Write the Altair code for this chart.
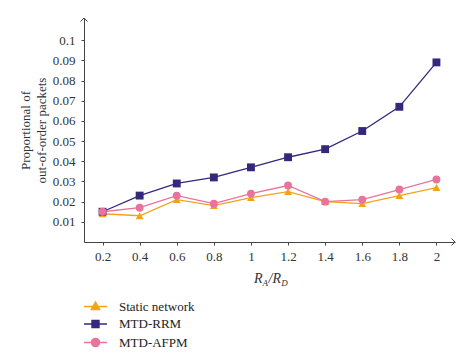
import altair as alt
import pandas as pd

ratio = [0.2, 0.4, 0.6, 0.8, 1.0, 1.2, 1.4, 1.6, 1.8, 2.0]
static_network = [0.014, 0.013, 0.021, 0.018, 0.022, 0.025, 0.020, 0.019, 0.023, 0.027]
mtd_rrm = [0.015, 0.023, 0.029, 0.032, 0.037, 0.042, 0.046, 0.055, 0.067, 0.089]
mtd_afpm = [0.015, 0.017, 0.023, 0.019, 0.024, 0.028, 0.020, 0.021, 0.026, 0.031]

series_names = ["Static network", "MTD-RRM", "MTD-AFPM"]
series_colors = ["#f4a21c", "#33287c", "#e8739c"]
series_shapes = ["triangle-up", "square", "circle"]
legend_shapes = [
    "M-2,0H2M0,-0.75L0.72,0.5H-0.72Z",
    "M-2,0H2M-0.6,-0.6H0.6V0.6H-0.6Z",
    "M-2,0H2M-0.7,0A0.7,0.7,0,1,0,0.7,0A0.7,0.7,0,1,0,-0.7,0Z",
]
x_ticks = ratio
y_ticks = [0.01, 0.02, 0.03, 0.04, 0.05, 0.06, 0.07, 0.08, 0.09, 0.1]

rows = []
for name, vals in zip(series_names, [static_network, mtd_rrm, mtd_afpm]):
    for r, v in zip(ratio, vals):
        rows.append({"ratio": r, "value": v, "series": name})
df = pd.DataFrame(rows)

W, H = 371, 224
SERIF = "Liberation Serif"

x = alt.X("ratio:Q", scale=alt.Scale(domain=[0.1, 2.1], nice=False, zero=False),
          axis=alt.Axis(values=x_ticks, format="~g", title=None, grid=False,
                        tickSize=3, labelPadding=5))
y = alt.Y("value:Q", scale=alt.Scale(domain=[0, 0.111], nice=False),
          axis=alt.Axis(values=y_ticks, format="~g", grid=False,
                        title=["Proportional of", "out-of-order packets"],
                        tickSize=3, labelPadding=6, titlePadding=4,
                        titleFont=SERIF, titleFontSize=13, titleFontWeight="normal",
                        titleColor="#333", titleLineHeight=16))
cscale = alt.Scale(domain=series_names, range=series_colors)

base = alt.Chart(df)
lines = base.mark_line(strokeWidth=1.3).encode(
    x=x, y=y, color=alt.Color("series:N", scale=cscale, legend=None))
points = base.mark_point(filled=True, size=62, opacity=1).encode(
    x=x, y=y,
    color=alt.Color("series:N", scale=cscale, legend=None),
    shape=alt.Shape("series:N", scale=alt.Scale(domain=series_names, range=series_shapes), legend=None))

legend_layer = base.transform_filter("false").mark_point(
    filled=True, size=132.25, strokeWidth=1.5, opacity=1).encode(
    x=x, y=y,
    fill=alt.Fill("series:N", scale=alt.Scale(domain=series_names, range=series_colors),
                  legend=alt.Legend(orient="none", legendX=5, legendY=282, title=None,
                                    labelFont=SERIF, labelFontSize=13, labelColor="#222",
                                    symbolSize=132.25, symbolStrokeWidth=1.5,
                                    labelOffset=17, rowPadding=3.5, symbolOpacity=1)),
    stroke=alt.Stroke("series:N", scale=alt.Scale(domain=series_names, range=series_colors)),
    shape=alt.Shape("series:N", scale=alt.Scale(domain=series_names, range=legend_shapes)),
)

one = pd.DataFrame({"a": [0]})
arrow_y = alt.Chart(one).mark_point(shape="M-1,1L0,0L1,1", filled=False, size=49,
                                    color="#444", strokeWidth=1, opacity=1).encode(
    x=alt.value(0), y=alt.value(0))
arrow_x = alt.Chart(one).mark_point(shape="M-1,-1L0,0L-1,1", filled=False, size=49,
                                    color="#444", strokeWidth=1, opacity=1).encode(
    x=alt.value(W), y=alt.value(H))

def txt(t, px, py, size, italic=True):
    return alt.Chart(one).mark_text(text=t, font=SERIF, fontSize=size,
                                    fontStyle="italic" if italic else "normal",
                                    align="left", baseline="alphabetic", color="#333").encode(
        x=alt.value(px), y=alt.value(py))

title_parts = (txt("R", 170, 265, 14) + txt("A", 178.6, 268, 9) + txt("/", 184.5, 265, 14)
               + txt("R", 188.5, 265, 14) + txt("D", 197.2, 268, 9))

chart = alt.layer(lines, points, legend_layer, arrow_y, arrow_x, title_parts).resolve_scale(
    shape="independent", color="independent", fill="independent", stroke="independent"
).properties(
    width=W, height=H, autosize=alt.AutoSizeParams(type="none"),
    padding={"left": 76, "top": 10, "right": 10, "bottom": 110},
).configure_view(stroke=None).configure_axis(
    domainColor="#444", tickColor="#444", labelFont=SERIF, labelFontSize=13,
    labelColor="#333", domainWidth=1)

chart.save("out.html", embed_options={"renderer": "svg", "actions": False})
